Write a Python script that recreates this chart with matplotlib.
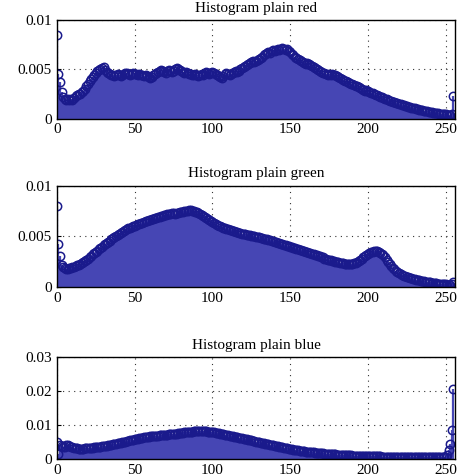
import numpy as np
import matplotlib
matplotlib.use("Agg")
import matplotlib.pyplot as plt

plt.rcParams['font.family'] = ['Liberation Serif']

red = [85,45,37,27,22,20,19,20,19,20,19,21,23,24,25,25,
27,28,30,33,35,38,40,42,44,46,48,49,50,51,52,49,
47,46,45,44,44,43,44,45,44,43,44,45,46,46,45,44,
45,46,45,45,44,45,44,44,43,44,43,42,41,42,44,45,
46,47,48,49,48,47,46,48,49,48,47,48,50,51,50,49,
48,47,46,47,46,45,45,44,44,45,44,43,44,45,44,46,
47,46,45,46,47,46,45,44,43,42,41,43,45,46,45,44,
45,46,47,48,47,48,50,51,52,53,54,55,56,57,58,57,
58,59,60,61,62,64,65,66,67,66,68,69,68,69,70,69,
70,71,70,69,70,68,67,65,64,62,61,60,59,58,57,56,
55,56,55,54,53,52,51,50,49,48,47,46,46,45,44,45,
44,45,44,44,43,42,41,40,39,38,38,37,36,35,35,34,
33,33,32,31,30,29,28,29,28,27,26,26,25,24,24,23,
22,22,21,20,20,19,18,18,17,17,16,16,15,15,14,14,
13,13,12,12,11,11,11,10,10,9,9,9,8,8,8,7,
7,7,6,6,6,6,5,5,5,5,5,4,4,4,5,23]

green = [80,42,30,22,20,19,18,18,19,19,20,20,21,22,22,23,
24,25,26,27,28,29,30,32,33,34,35,37,38,39,41,42,
43,44,45,47,48,49,50,51,52,53,54,55,56,57,58,58,
59,60,60,61,62,62,63,63,64,65,65,66,66,67,67,68,
68,69,69,70,70,71,71,72,72,72,73,73,72,73,73,74,
74,74,75,75,75,76,76,75,75,74,74,73,72,71,70,69,
68,67,66,65,64,63,62,61,60,60,59,58,58,57,57,56,
56,55,55,54,54,53,53,52,52,52,51,51,51,50,50,50,
49,49,49,48,48,47,47,47,46,46,45,45,44,44,43,43,
42,42,41,41,40,40,39,39,38,38,37,37,36,36,35,35,
34,34,33,33,32,32,31,31,30,30,29,29,28,28,27,27,
27,26,26,25,25,25,24,24,24,23,23,23,23,23,23,24,
24,25,26,27,28,29,30,31,32,33,34,34,35,35,35,34,
33,32,31,29,27,25,23,21,19,18,16,15,14,13,12,11,
11,10,10,9,9,8,8,7,7,7,6,6,6,5,5,5,
5,4,4,4,4,3,3,3,3,3,3,2,2,2,3,5]

blue = [50,15,40,38,36,35,42,40,38,36,34,33,32,31,30,30,
30,30,31,31,32,32,33,33,34,34,35,35,36,37,37,38,
39,40,41,42,43,44,45,46,47,48,49,50,51,52,53,54,
55,56,57,58,59,60,61,62,63,64,64,65,66,66,67,67,
68,68,69,69,70,70,71,71,72,72,73,73,74,74,75,76,
76,77,78,78,79,79,80,80,81,81,82,82,82,82,82,81,
81,80,80,79,79,78,77,76,75,74,73,72,71,70,69,68,
67,66,65,64,63,62,61,60,59,58,57,56,55,54,53,52,
51,50,49,48,47,46,45,44,43,42,41,40,39,38,37,36,
35,34,33,32,31,30,29,28,27,27,26,25,24,23,23,22,
21,21,20,20,19,19,18,18,17,17,16,16,15,15,15,14,
14,13,13,13,12,12,12,11,11,11,10,10,10,10,9,9,
9,9,9,8,8,8,8,8,8,7,7,7,7,7,7,7,
7,6,6,6,6,6,6,6,6,6,6,6,6,6,6,6,
5,5,5,5,5,5,5,5,5,5,5,5,5,5,5,5,
5,5,5,5,5,5,5,5,5,5,6,10,25,45,85,205]

titles = ["Histogram plain red", "Histogram plain green", "Histogram plain blue"]
series = [red, green, blue]
ylims = [0.01, 0.01, 0.03]
yticks = [[0, 0.005, 0.01], [0, 0.005, 0.01], [0, 0.01, 0.02, 0.03]]
yticklabels = [["0", "0.005", "0.01"], ["0", "0.005", "0.01"], ["0", "0.01", "0.02", "0.03"]]
xs = np.arange(256)

fig = plt.figure(figsize=(4.74, 4.74), dpi=100)
boxes = [(0.12, 0.75, 0.84, 0.208), (0.12, 0.395, 0.84, 0.213), (0.12, 0.032, 0.84, 0.215)]
for i in range(3):
    ax = fig.add_axes(boxes[i])
    y = np.array(series[i]) * 1e-4
    ax.vlines(xs, 0, y, color='#4646b4', lw=1.6)
    ax.plot(xs, y, 'o', mfc='none', mec='#1a1a8c', ms=6, mew=1.1)
    ax.set_xlim(0, 256)
    ax.set_ylim(0, ylims[i])
    ax.set_xticks([0, 50, 100, 150, 200, 250])
    ax.set_yticks(yticks[i])
    ax.set_yticklabels(yticklabels[i])
    ax.grid(True, color='#333333', linestyle=(0, (1, 4)), lw=0.8)
    ax.tick_params(labelsize=11, direction='in', length=3)
    ax.set_title(titles[i], fontsize=11)
    for s in ax.spines.values():
        s.set_linewidth(1.0)

fig.savefig("out.png", dpi=100)
